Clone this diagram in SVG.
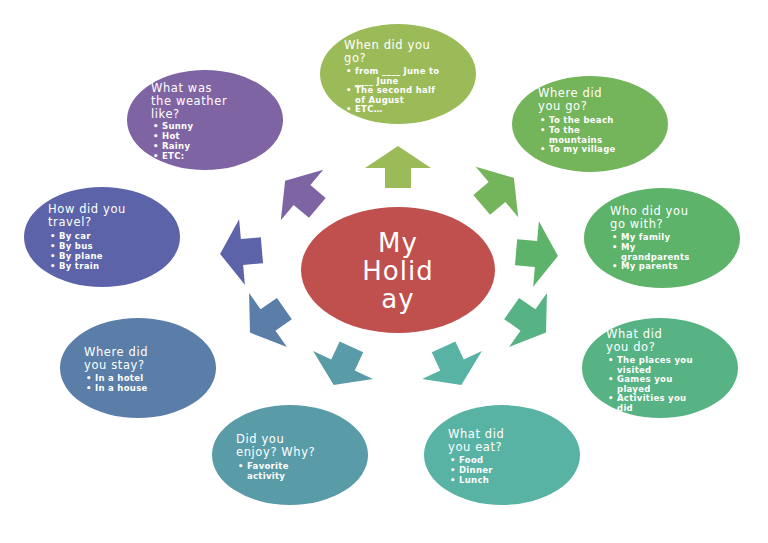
<svg xmlns="http://www.w3.org/2000/svg" width="768" height="543" viewBox="0 0 768 543">
<style>
text{font-family:"DejaVu Sans","Liberation Sans",sans-serif;fill:#fff}
.t{font-size:11.5px;letter-spacing:0.6px}
.b{font-size:8.5px;font-weight:bold;letter-spacing:0.3px}
</style>
<defs><path id="ar" d="M0,-22 L33,0 L13,0 L13,20 L-13,20 L-13,0 L-33,0 Z"/></defs>
<rect width="768" height="543" fill="#fff"/>
<g id="connectors">
<use href="#ar" transform="translate(398,168)" fill="#9bbb59"/>
<use href="#ar" transform="translate(497,192) rotate(50)" fill="#74b45a"/>
<use href="#ar" transform="translate(536,254) rotate(95)" fill="#5db36a"/>
<use href="#ar" transform="translate(528,320) rotate(125)" fill="#57b383"/>
<use href="#ar" transform="translate(452,365) rotate(155)" fill="#58b3a4"/>
<use href="#ar" transform="translate(343,365) rotate(205)" fill="#5a9ba8"/>
<use href="#ar" transform="translate(268,320) rotate(235)" fill="#5a7ea8"/>
<use href="#ar" transform="translate(242,252) rotate(265)" fill="#5c63a8"/>
<use href="#ar" transform="translate(302,195) rotate(310)" fill="#7f64a4"/>
</g>
<g id="center"><ellipse cx="398" cy="270" rx="97" ry="63" fill="#c0504d"/>
<text x="398" y="252" text-anchor="middle" font-size="26" letter-spacing="1">My</text>
<text x="398" y="280" text-anchor="middle" font-size="26" letter-spacing="1">Holid</text>
<text x="398" y="308" text-anchor="middle" font-size="26" letter-spacing="1">ay</text></g>
<g id="when"><ellipse cx="398" cy="74" rx="78" ry="50" fill="#9bbb59"/>
<text class="t" x="344" y="49">When did you</text><text class="t" x="344" y="62">go?</text>
<text class="b" x="346" y="74">•  from ____ June to</text><text class="b" x="355" y="83.5">____ June</text>
<text class="b" x="346" y="93">•  The second half</text><text class="b" x="355" y="102.5">of August</text>
<text class="b" x="346" y="112">•  ETC…</text></g>
<g id="where"><ellipse cx="590" cy="124" rx="78" ry="48" fill="#74b45a"/>
<text class="t" x="538" y="97">Where did</text><text class="t" x="538" y="110">you go?</text>
<text class="b" x="540" y="123">•  To the beach</text><text class="b" x="540" y="133">•  To the</text><text class="b" x="549" y="142.5">mountains</text><text class="b" x="540" y="152">•  To my village</text></g>
<g id="who"><ellipse cx="662" cy="238" rx="78" ry="50" fill="#5db36a"/>
<text class="t" x="610" y="215">Who did you</text><text class="t" x="610" y="228">go with?</text>
<text class="b" x="612" y="240">•  My family</text><text class="b" x="612" y="250">•  My</text><text class="b" x="621" y="259.5">grandparents</text><text class="b" x="612" y="269">•  My parents</text></g>
<g id="do"><ellipse cx="660" cy="368" rx="78" ry="50" fill="#57b383"/>
<text class="t" x="606" y="338">What did</text><text class="t" x="606" y="351">you do?</text>
<text class="b" x="608" y="363">•  The places you</text><text class="b" x="617" y="372.5">visited</text><text class="b" x="608" y="382">•  Games you</text><text class="b" x="617" y="391.5">played</text><text class="b" x="608" y="401">•  Activities you</text><text class="b" x="617" y="410.5">did</text></g>
<g id="eat"><ellipse cx="502" cy="455" rx="78" ry="50" fill="#58b3a4"/>
<text class="t" x="448" y="438">What did</text><text class="t" x="448" y="451">you eat?</text>
<text class="b" x="450" y="463">•  Food</text><text class="b" x="450" y="473">•  Dinner</text><text class="b" x="450" y="483">•  Lunch</text></g>
<g id="enjoy"><ellipse cx="290" cy="455" rx="78" ry="50" fill="#5a9ba8"/>
<text class="t" x="236" y="443">Did you</text><text class="t" x="236" y="456">enjoy? Why?</text>
<text class="b" x="238" y="469">•  Favorite</text><text class="b" x="247" y="478.5">activity</text></g>
<g id="stay"><ellipse cx="138" cy="368" rx="78" ry="50" fill="#5a7ea8"/>
<text class="t" x="84" y="356">Where did</text><text class="t" x="84" y="369">you stay?</text>
<text class="b" x="86" y="381">•  In a hotel</text><text class="b" x="86" y="391">•  In a house</text></g>
<g id="travel"><ellipse cx="102" cy="237" rx="78" ry="50" fill="#5c63a8"/>
<text class="t" x="48" y="213">How did you</text><text class="t" x="48" y="226">travel?</text>
<text class="b" x="50" y="239">•  By car</text><text class="b" x="50" y="249">•  By bus</text><text class="b" x="50" y="259">•  By plane</text><text class="b" x="50" y="269">•  By train</text></g>
<g id="weather"><ellipse cx="205" cy="120" rx="78" ry="50" fill="#7f64a4"/>
<text class="t" x="151" y="92">What was</text><text class="t" x="151" y="105">the weather</text><text class="t" x="151" y="118">like?</text>
<text class="b" x="153" y="129">•  Sunny</text><text class="b" x="153" y="139">•  Hot</text><text class="b" x="153" y="149">•  Rainy</text><text class="b" x="153" y="159">•  ETC:</text></g>
</svg>
